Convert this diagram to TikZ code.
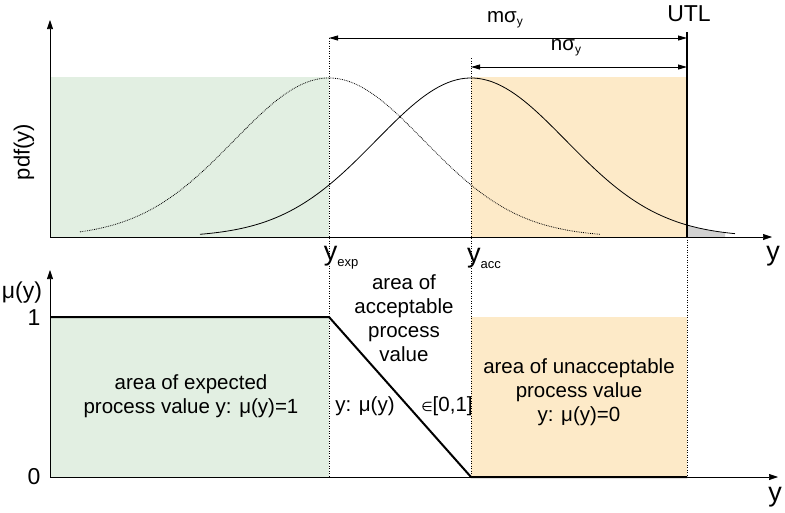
\documentclass[tikz,border=0pt]{standalone}
\usepackage{fontspec}
\setmainfont{Liberation Sans}
\newfontfamily\dvs{DejaVu Sans}
\usetikzlibrary{arrows.meta}
\definecolor{grn}{RGB}{226,239,226}
\definecolor{org}{RGB}{253,234,200}
\begin{document}
\begin{tikzpicture}[x=1pt,y=-1pt,
  txt/.style={font=\fontsize{20.5}{24}\selectfont,align=center,inner sep=0pt},
  big/.style={font=\fontsize{27}{28}\selectfont,inner sep=0pt},
  sub/.style={font=\fontsize{13}{13}\selectfont},
  ax/.style={-{Triangle[length=9pt,width=6pt]},line width=0.6pt},
  dim/.style={{Triangle[length=9pt,width=5pt]}-{Triangle[length=9pt,width=5pt]},line width=0.8pt},
  vdot/.style={dotted,line width=0.5pt}]
\useasboundingbox (0,0) rectangle (785,512);
% fills
\fill[grn] (50,77) rectangle (329,237);
\fill[org] (471,77) rectangle (687,237);
\fill[grn] (50,317) rectangle (329,477);
\fill[org] (471,317) rectangle (687,477);
\fill[gray!35] (687,237) -- plot[domain=687:725,samples=20] (\x,{237-159*exp(-0.5*((\x-471)/95)^2)}) -- (725,237) -- cycle;
% coordinates
\coordinate (o1) at (50,237); \coordinate (t1) at (50,20); \coordinate (r1) at (772,237);
\coordinate (o2) at (50,477); \coordinate (t2) at (50,270); \coordinate (r2) at (778,477);
\coordinate (e1) at (329,38); \coordinate (e2) at (329,477);
\coordinate (a1) at (471,58); \coordinate (a2) at (471,477);
\coordinate (u1) at (687,32); \coordinate (u2) at (687,237); \coordinate (u3) at (687,477);
\coordinate (m2) at (687,38); \coordinate (n1) at (471,67); \coordinate (n2) at (687,67);
% dotted verticals
\draw[vdot] (e1) -- (e2);
\draw[vdot] (a1) -- (a2);
\draw[vdot] (u2) -- (u3);
% curves
\draw[densely dotted,line width=0.8pt] plot[domain=80:600,samples=120] (\x,{237-159*exp(-0.5*((\x-329)/95)^2)});
\draw[line width=0.8pt] plot[domain=200:735,samples=120] (\x,{237-159*exp(-0.5*((\x-471)/95)^2)});
% axes
\draw[ax] (o1) -- (t1);
\draw[ax] (o1) -- (r1);
\draw[ax] (o2) -- (t2);
\draw[ax] (o2) -- (r2);
\draw[line width=2pt] (u1) -- (u2);
\draw[dim] (e1) -- (m2);
\draw[dim] (n1) -- (n2);
% membership
\coordinate (p1) at (50,317); \coordinate (p2) at (329,317); \coordinate (p3) at (471,477); \coordinate (p4) at (687,477);
\draw[line width=2pt] (p1) -- (p2) -- (p3) -- (p4);
% labels
\node[txt] (lm) at (505,20) {mσ\raisebox{-3pt}{\fontsize{12}{12}\selectfont y}};
\node[txt] (ln) at (566,48) {nσ\raisebox{-3pt}{\fontsize{12}{12}\selectfont y}};
\node[txt,font=\fontsize{23}{24}\selectfont] (lu) at (689,14) {UTL};
\node[txt,rotate=90,font=\fontsize{22}{24}\selectfont] (lp) at (24,152) {pdf(y)};
\node[big] (le) at (341,258) {y\raisebox{-6pt}{\fontsize{13}{13}\selectfont exp}};
\node[big] (la) at (484,258) {y\raisebox{-6pt}{\fontsize{13}{13}\selectfont acc}};
\node[big] (ly1) at (773,256) {y};
\node[big] (ly2) at (775,497) {y};
\node[txt,font=\fontsize{23}{24}\selectfont] (lmu) at (22,293) {μ(y)};
\node[txt,font=\fontsize{23}{24}\selectfont] (l1) at (34,318) {1};
\node[txt,font=\fontsize{23}{24}\selectfont] (l0) at (34,477) {0};
\node[txt] (lacc) at (404,318) {area of\\acceptable\\process\\value};
\node[txt] (lexp) at (191,396) {area of expected\\process value y: μ(y)=1};
\node[txt] (ly) at (365,406) {y: μ(y)};
\node[txt] (lin) at (447,406) {{\dvs\fontsize{13}{13}\selectfont ∈}[0,1]};
\node[txt] (lun) at (579,392) {area of unacceptable\\process value\\y: μ(y)=0};
\end{tikzpicture}
\end{document}
